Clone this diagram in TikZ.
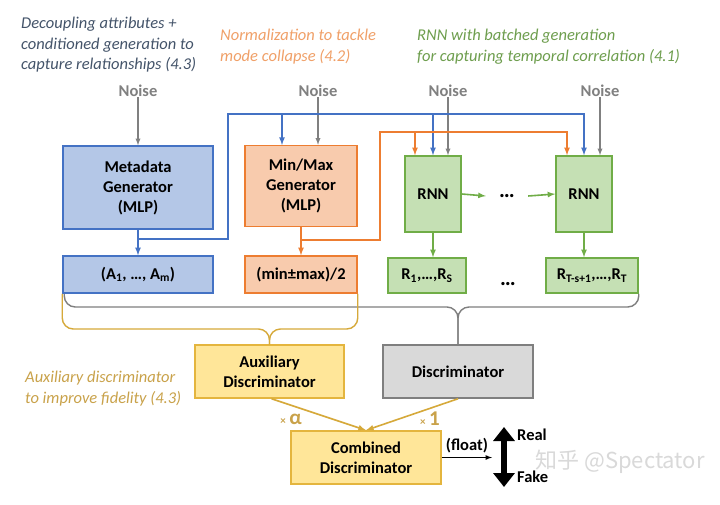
\documentclass[tikz,border=0pt]{standalone}
\usepackage{fontspec}
\setmainfont{Carlito}
\newfontfamily\cjkfont{Noto Sans CJK SC}
\usetikzlibrary{arrows.meta}
\definecolor{blueedge}{HTML}{4472C4}
\definecolor{bluefill}{HTML}{B4C7E7}
\definecolor{orangeedge}{HTML}{ED7D31}
\definecolor{orangefill}{HTML}{F8CBAD}
\definecolor{greenedge}{HTML}{70AD47}
\definecolor{greenfill}{HTML}{C5E0B4}
\definecolor{goldedge}{HTML}{E4B53E}
\definecolor{goldfill}{HTML}{FFE699}
\definecolor{goldline}{HTML}{D6A93A}
\definecolor{grayedge}{HTML}{7F7F7F}
\definecolor{grayfill}{HTML}{D9D9D9}
\definecolor{noisegray}{HTML}{808080}
\definecolor{bluenote}{HTML}{44546A}
\definecolor{orangenote}{HTML}{F0A068}
\definecolor{greennote}{HTML}{6E9E4E}
\definecolor{goldnote}{HTML}{C9A24A}
\tikzset{
  >=latex,
  boxtext/.style={font=\bfseries\fontsize{16.5}{20}\selectfont, align=center, inner sep=0},
  metabox/.style={boxtext, draw=blueedge, fill=bluefill, line width=1.5},
  mmbox/.style={boxtext, draw=orangeedge, fill=orangefill, line width=1.5},
  rnnbox/.style={boxtext, draw=greenedge, fill=greenfill, line width=1.5},
  goldbox/.style={boxtext, draw=goldedge, fill=goldfill, line width=1.5},
  graybox/.style={boxtext, draw=grayedge, fill=grayfill, line width=1.5},
  noise/.style={boxtext, text=noisegray},
  dots/.style={font=\bfseries\fontsize{22}{22}\selectfont, inner sep=0},
  note/.style={font=\itshape\fontsize{16.5}{20.5}\selectfont, align=left, anchor=west, inner sep=0},
  blueline/.style={draw=blueedge, line width=1.6},
  orangeline/.style={draw=orangeedge, line width=1.6},
  greenline/.style={draw=greenedge, line width=1.6},
  noiseline/.style={draw=noisegray, line width=1.3},
  weight/.style={text=goldnote, font=\bfseries\fontsize{21}{21}\selectfont, inner sep=0},
}
\begin{document}
\begin{tikzpicture}[x=1pt,y=-1pt]
  \useasboundingbox[fill=white] (0,0) rectangle (720,504);
  % notes
  \node[note, text=bluenote] (noteattr) at (21,45) {Decoupling attributes +\\conditioned generation to\\capture relationships (4.3)};
  \node[note, text=orangenote] (notenorm) at (220,46.5) {Normalization to tackle\\mode collapse (4.2)};
  \node[note, text=greennote] (noternn) at (417,46.5) {RNN with batched generation\\for capturing temporal correlation (4.1)};
  \node[note, text=goldnote] (noteaux) at (25,388.5) {Auxiliary discriminator\\to improve fidelity (4.3)};
  % noise inputs
  \node[noise] (noiseA) at (138,91) {Noise};
  \node[noise] (noiseB) at (318,91) {Noise};
  \node[noise] (noiseC) at (448,91) {Noise};
  \node[noise] (noiseD) at (600,91) {Noise};
  % generators
  \node[metabox, minimum width=150, minimum height=83] (meta) at (138,187.5) {Metadata\\Generator\\(MLP)};
  \node[mmbox, minimum width=112, minimum height=81] (minmax) at (301,186) {Min/Max\\Generator\\(MLP)};
  \node[rnnbox, minimum width=56, minimum height=76] (rnnA) at (433,194) {RNN};
  \node[rnnbox, minimum width=56, minimum height=76] (rnnB) at (584,194) {RNN};
  \node[dots, minimum width=42] (dotsA) at (507,196) {…};
  % outputs
  \node[metabox, minimum width=150, minimum height=37] (attr) at (138,274.5) {(A\textsubscript{1}, …, A\textsubscript{m})};
  \node[mmbox, minimum width=112, minimum height=37] (norm) at (301,274.5) {(min±max)/2};
  \node[rnnbox, minimum width=78, minimum height=35] (outA) at (427,275.5) {R\textsubscript{1},…,R\textsubscript{S}};
  \node[rnnbox, minimum width=92, minimum height=35] (outB) at (592,275.5) {R\textsubscript{T-s+1},…,R\textsubscript{T}};
  \node[dots] (dotsB) at (508,284) {…};
  % discriminators
  \node[goldbox, minimum width=149, minimum height=53] (aux) at (269.5,371.5) {Auxiliary\\Discriminator};
  \node[graybox, minimum width=150, minimum height=53] (disc) at (458,371.5) {Discriminator};
  \node[goldbox, minimum width=150, minimum height=53] (comb) at (366,457.5) {Combined\\Discriminator};
  \node[weight, anchor=east] (wa) at (302,419) {{\fontsize{11}{11}\selectfont ×}\,α};
  \node[weight, anchor=east] (wb) at (440,419) {{\fontsize{11}{11}\selectfont ×}\,1};
  % noise arrows
  \draw[noiseline,->] (noiseA) -- (meta);
  \draw[noiseline,->] (noiseB) -- (noiseB |- minmax.north);
  \draw[noiseline,->] (noiseC) -- (noiseC |- rnnA.north);
  \draw[noiseline,->] (noiseD) -- (noiseD |- rnnB.north);
  % attributes feed
  \coordinate (bsplit) at (138,239);
  \coordinate (btop) at (228,114);
  \draw[blueline,->] (meta) -- (attr);
  \draw[blueline,->] (bsplit) -| (btop) -| (rnnB.north);
  \draw[blueline,->] (282,114) -- (282,145);
  \draw[blueline,->] (rnnA.north |- btop) -- (rnnA.north);
  % min/max feed
  \coordinate (osplit) at (301,240);
  \coordinate (otop) at (380,132);
  \draw[orangeline,->] (minmax) -- (norm);
  \draw[orangeline,->] (osplit) -| (otop) -| ([xshift=-17]rnnB.north);
  \draw[orangeline,->] ([xshift=-18]rnnA.north |- otop) -- ([xshift=-18]rnnA.north);
  % rnn chain
  \draw[greenline,->] (rnnA.east) -- (dotsA.west);
  \draw[greenline,->] (dotsA.east) -- (rnnB.west);
  \draw[greenline,->] (rnnA.south) -- (rnnA.south |- outA.north);
  \draw[greenline,->] (rnnB.south) -- (rnnB.south |- outB.north);
  % braces
  \coordinate (ygray) at (0,307);
  \coordinate (ygold) at (0,329);
  \begin{scope}[line width=1.4, rounded corners=11]
    \draw[grayedge] ([xshift=2]attr.south west) |- (disc.north |- ygray) -- (disc.north);
    \draw[grayedge] (outB.south east) |- (disc.north |- ygray) -- (disc.north);
    \draw[goldline] (attr.south west) |- (aux.north |- ygold) -- (aux.north);
    \draw[goldline] (norm.south east) |- (aux.north |- ygold) -- (aux.north);
  \end{scope}
  % combination
  \draw[goldline, line width=1.6, ->] ([xshift=2]aux.south) -- (comb.north);
  \draw[goldline, line width=1.6, ->] (disc.south) -- (comb.north);
  \coordinate (floatend) at (492,457.5);
  \draw[line width=1.2, ->] (comb.east) -- (floatend) node[midway, above=4pt, boxtext] (floatlbl) {(float)};
  \coordinate (realtip) at (504,427);
  \coordinate (faketip) at (504,487);
  \draw[line width=6.5, {Triangle[width=21pt,length=14pt]}-{Triangle[width=21pt,length=14pt]}] (faketip) -- (realtip);
  \node[boxtext, anchor=west] (real) at (517,435) {Real};
  \node[boxtext, anchor=west] (fake) at (517,477) {Fake};
  \node[text=gray!30, font=\cjkfont\fontsize{22}{22}\selectfont] (mark) at (620,462) {知乎 @Spectator};
\end{tikzpicture}
\end{document}
